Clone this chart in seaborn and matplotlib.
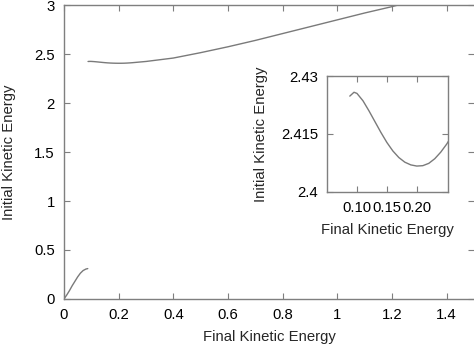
import numpy as np
import pandas as pd
import matplotlib
matplotlib.use("Agg")
import matplotlib.pyplot as plt
from matplotlib.ticker import FuncFormatter
import seaborn as sns

# Low-energy branch
low_final = [0.0, 0.01, 0.02, 0.03, 0.04, 0.05, 0.06, 0.07, 0.08, 0.087]
low_initial = [0.0, 0.04, 0.085, 0.135, 0.18, 0.225, 0.263, 0.29, 0.305, 0.31]

# High-energy branch
high_final = [0.088, 0.095, 0.10, 0.11, 0.12, 0.13, 0.14, 0.15, 0.16, 0.17,
              0.18, 0.19, 0.20, 0.21, 0.22, 0.23, 0.24, 0.25, 0.30, 0.40,
              0.50, 0.60, 0.70, 0.80, 0.90, 1.00, 1.10, 1.20, 1.26]
high_initial = [2.4248, 2.4258, 2.4255, 2.4236, 2.4210, 2.4182, 2.4154, 2.4128,
                2.4106, 2.4089, 2.4077, 2.4070, 2.4067, 2.4068, 2.4074, 2.4086,
                2.4103, 2.4124, 2.425, 2.46, 2.515, 2.575, 2.64, 2.71, 2.78,
                2.85, 2.92, 2.985, 3.03]

main_xticks = [0, 0.2, 0.4, 0.6, 0.8, 1.0, 1.2, 1.4]
main_yticks = [0, 0.5, 1, 1.5, 2, 2.5, 3]
inset_xticks = [0.10, 0.15, 0.20]
inset_yticks = [2.4, 2.415, 2.43]

low = pd.DataFrame({"final": low_final, "initial": low_initial})
high = pd.DataFrame({"final": high_final, "initial": high_initial})

sns.set_style("ticks")
plt.rcParams["font.family"] = ["Liberation Sans", "DejaVu Sans"]

FS = 10.7
line_color = "#7a7a7a"
frame_color = "#7f7f7f"

fig = plt.figure(figsize=(4.74, 3.44), dpi=100)
ax = fig.add_axes([0.135, 0.131, 0.865, 0.854])


def style_axes(a):
    for side in ["left", "bottom", "top", "right"]:
        a.spines[side].set_color(frame_color)
        a.spines[side].set_linewidth(1.0)
    a.tick_params(direction="in", length=4, width=0.8, color=frame_color,
                  labelcolor="black", top=True, right=True, pad=6.5,
                  labelsize=FS)


for df in (low, high):
    sns.lineplot(data=df, x="final", y="initial", ax=ax, sort=False,
                 estimator=None, color=line_color, linewidth=1.0)
ax.set_xlim(0, 1.5)
ax.set_ylim(0, 3)
ax.set_xticks(main_xticks)
ax.set_yticks(main_yticks)
ax.xaxis.set_major_formatter(FuncFormatter(lambda v, p: f"{v:g}"))
ax.yaxis.set_major_formatter(FuncFormatter(lambda v, p: f"{v:g}"))
ax.set_xlabel("Final Kinetic Energy", fontsize=FS, labelpad=6)
ax.set_ylabel("Initial Kinetic Energy", fontsize=FS, labelpad=13)
style_axes(ax)
ax.spines["right"].set_visible(False)

# Inset zoom on the minimum of the upper branch
inset = fig.add_axes([0.690, 0.442, 0.255, 0.337])
sns.lineplot(data=high, x="final", y="initial", ax=inset, sort=False,
             estimator=None, color=line_color, linewidth=1.0)
inset.set_xlim(0.05, 0.252)
inset.set_ylim(2.4, 2.43)
inset.set_xticks(inset_xticks)
inset.set_yticks(inset_yticks)
inset.xaxis.set_major_formatter(FuncFormatter(lambda v, p: f"{v:.2f}"))
inset.yaxis.set_major_formatter(FuncFormatter(lambda v, p: f"{v:g}"))
inset.set_xlabel("Final Kinetic Energy", fontsize=FS, labelpad=6)
inset.set_ylabel("Initial Kinetic Energy", fontsize=FS, labelpad=9)
style_axes(inset)
inset.patch.set_facecolor("white")

fig.savefig("out.png", dpi=100)
